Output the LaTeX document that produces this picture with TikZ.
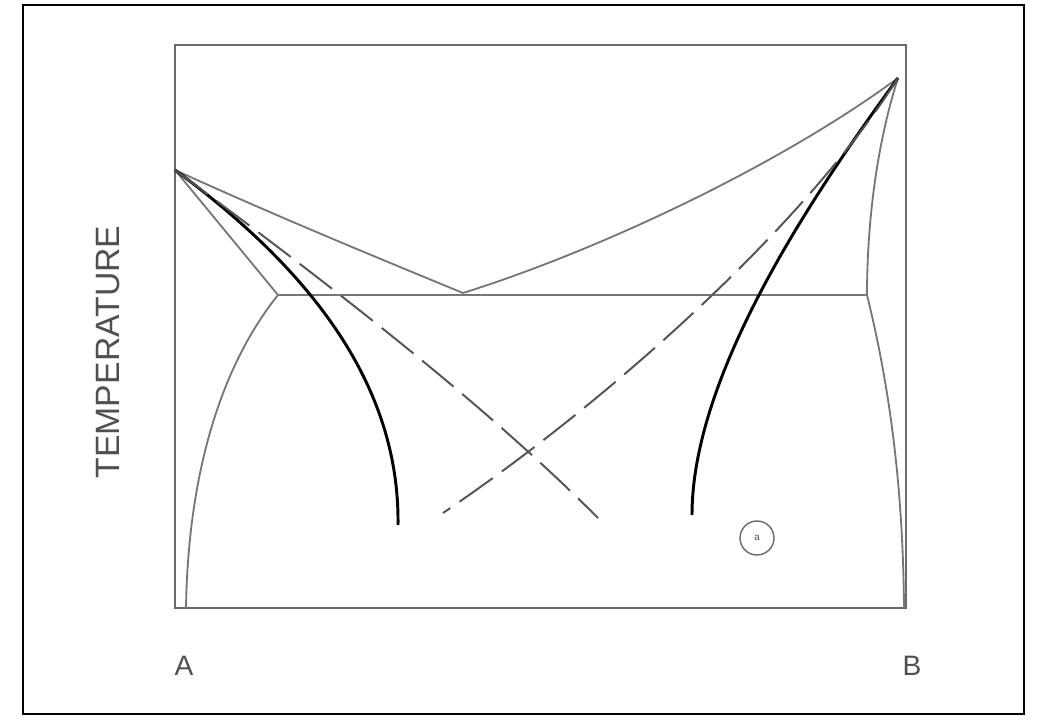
\documentclass[tikz,border=0pt]{standalone}
\usepackage{fontspec}
\setmainfont{Liberation Sans}
\usetikzlibrary{positioning}
\definecolor{boxgray}{HTML}{6A6A6A}
\definecolor{linegray}{HTML}{767676}
\definecolor{dashgray}{HTML}{555555}
\definecolor{textgray}{HTML}{505050}

\begin{document}
\begin{tikzpicture}[x=.025cm,y=-.025cm,
    boxline/.style={boxgray,line width=1.8pt},
    phaseline/.style={linegray,line width=1.3pt},
    boldcurve/.style={black,line width=2.1pt},
    dashline/.style={dashgray,line width=1.4pt,dash pattern=on 29pt off 8pt},
    letter/.style={textgray,font=\fontsize{20}{20}\selectfont,inner sep=0}]
    \useasboundingbox(0,0)rectangle(1040,721);
    \draw[black,line width=1.5pt](23,5)rectangle(1024,714);
    % diagram frame and the fixed points
    \draw[boxline](175,45)rectangle(906,608);
    \coordinate(meltA)at(175,170);
    \coordinate(meltB)at(898,78);
    \coordinate(eut)at(463,293);
    \coordinate(eutL)at(278,295);
    \coordinate(eutR)at(867,295);
    \coordinate(botL)at(186,608);
    \coordinate(botR)at(904,608);
    % liquidus and eutectic
    \draw[phaseline](meltA)..controls(280,218)and(400,267)..(eut);
    \draw[phaseline](eut)..controls(600,250)and(780,165)..(meltB);
    \draw[phaseline](eutL)--(eutR);
    % solidus and solvus
    \draw[phaseline](meltA)--(eutL);
    \draw[phaseline](eutL)..controls(218,370)and(188,480)..(botL);
    \draw[phaseline](meltB)..controls(875,150)and(867,230)..(eutR);
    \draw[phaseline](eutR)..controls(888,380)and(903,480)..(botR);
    % bold curves
    \coordinate(endL)at(398,525);
    \coordinate(endR)at(692,515);
    \draw[boldcurve](meltA)..controls(290,255)and(400,370)..(endL);
    \draw[boldcurve](meltB)..controls(820,185)and(692,370)..(endR);
    % dashed curves
    \coordinate(dashL)at(598,518);
    \coordinate(dashR)at(443,513);
    \draw[dashline](meltA)..controls(330,285)and(480,400)..(dashL);
    \draw[dashline](meltB)..controls(805,225)and(610,400)..(dashR);
    % labels
    \node[draw=boxgray,line width=1pt,circle,minimum size=.85cm,inner sep=0,
        text=textgray,font=\scriptsize](mark)at(757,538){a};
    \node[letter](labA)at(184,666){A};
    \node[letter](labB)at(912,666){B};
    \node[textgray,rotate=90,font=\fontsize{24}{24}\selectfont](axis)at(108,352){TEMPERATURE};
\end{tikzpicture}
\end{document}
